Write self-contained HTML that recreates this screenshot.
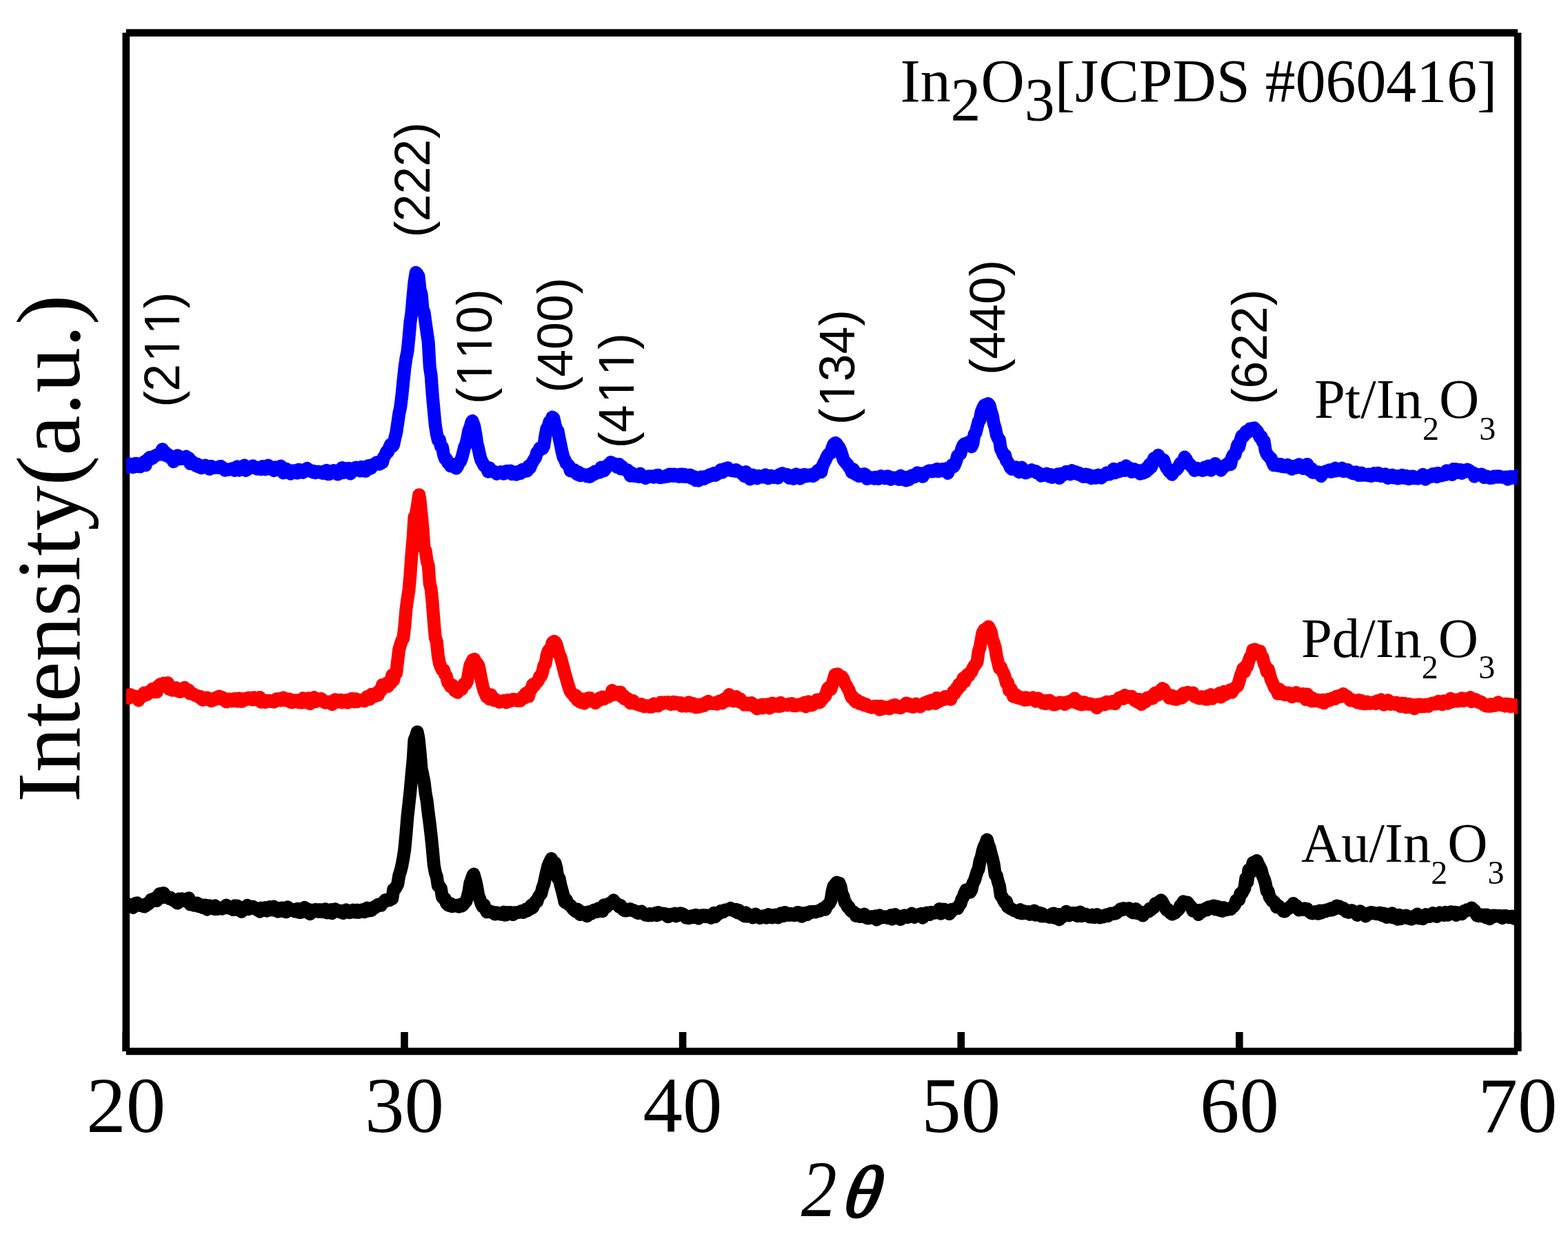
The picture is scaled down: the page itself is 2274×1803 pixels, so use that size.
<!DOCTYPE html>
<html lang="en">
<head>
<meta charset="utf-8">
<title>XRD patterns</title>
<style>
html,body{margin:0;padding:0;background:#fff;}
body{width:2274px;height:1803px;overflow:hidden;}
svg{display:block;}
.serif{font-family:"Liberation Serif", serif;font-kerning:none;}
.sans{font-family:"Liberation Sans", sans-serif;font-kerning:none;}
</style>
</head>
<body>
<svg width="2274" height="1803" viewBox="0 0 2274 1803">
<rect x="0" y="0" width="2274" height="1803" fill="#ffffff"/>

<g stroke="#000" stroke-width="10.6" fill="none" stroke-linecap="butt">
<line x1="182.8" y1="47.6" x2="2201.1" y2="47.6"/>
<line x1="182.8" y1="1525.0" x2="2201.1" y2="1525.0"/>
<line x1="182.8" y1="47.6" x2="182.8" y2="1525.0"/>
<line x1="2201.1" y1="47.6" x2="2201.1" y2="1525.0"/>
<line x1="182.8" y1="1525.0" x2="182.8" y2="1497.0"/>
<line x1="586.5" y1="1525.0" x2="586.5" y2="1497.0"/>
<line x1="990.1" y1="1525.0" x2="990.1" y2="1497.0"/>
<line x1="1393.8" y1="1525.0" x2="1393.8" y2="1497.0"/>
<line x1="1797.4" y1="1525.0" x2="1797.4" y2="1497.0"/>
<line x1="2201.1" y1="1525.0" x2="2201.1" y2="1497.0"/>
</g>
<g class="serif" font-size="115" fill="#000" text-anchor="middle">
<text x="182.8" y="1642">20</text>
<text x="586.5" y="1642">30</text>
<text x="990.1" y="1642">40</text>
<text x="1393.8" y="1642">50</text>
<text x="1797.4" y="1642">60</text>
<text x="2201.1" y="1642">70</text>
</g>
<text class="serif" font-size="116" font-style="italic" transform="translate(1161.8,1763.6) scale(0.895,1)">2</text>
<text class="serif" font-size="111" stroke="#000" stroke-width="3.2" stroke-linejoin="round" transform="translate(1216.5,1764.7) skewX(-18) scale(0.98,0.96)">θ</text>
<text class="serif" font-size="131.3" text-anchor="middle" transform="translate(114.9,795.7) rotate(-90)">Intensity(a.u.)</text>
<text class="serif" font-size="87.8" x="1305.4" y="147.4">In<tspan dy="27">2</tspan><tspan dy="-27">O</tspan><tspan dy="27">3</tspan><tspan dy="-23.5">[</tspan><tspan dy="-3.5">JCPDS #060416</tspan><tspan dy="3.5">]</tspan></text>
<text class="serif" font-size="80.7" x="1906" y="606.1">Pt/In<tspan font-size="48" dy="31.5">2</tspan><tspan dy="-31.5">O</tspan><tspan font-size="48" dy="31.5">3</tspan></text>
<text class="serif" font-size="80.7" x="1887" y="952.8">Pd/In<tspan font-size="48" dy="31.5">2</tspan><tspan dy="-31.5">O</tspan><tspan font-size="48" dy="31.5">3</tspan></text>
<text class="serif" font-size="80.7" x="1887" y="1250.4">Au/In<tspan font-size="48" dy="31.5">2</tspan><tspan dy="-31.5">O</tspan><tspan font-size="48" dy="31.5">3</tspan></text>
<g class="sans" font-size="71.6" fill="#000" text-anchor="start">
<g transform="translate(259.6,507.2) rotate(-90)">
<text x="-83.57 -60.53 -18.11 21.71 59.73" y="0">(211)</text>
<rect x="-14.26" y="-6.99" width="14.16" height="8.04" fill="#fff"/>
<rect x="6.22" y="-6.99" width="13.60" height="8.04" fill="#fff"/>
<rect x="25.56" y="-6.99" width="14.16" height="8.04" fill="#fff"/>
<rect x="46.04" y="-6.99" width="13.60" height="8.04" fill="#fff"/>
</g>
<g transform="translate(623.2,260.9) rotate(-90)">
<text x="-83.57 -60.53 -20.71 19.11 59.73" y="0">(222)</text>
</g>
<g transform="translate(713.1,502.8) rotate(-90)">
<text x="-83.57 -57.93 -18.11 19.11 59.73" y="0">(110)</text>
<rect x="-54.09" y="-6.99" width="14.16" height="8.04" fill="#fff"/>
<rect x="-33.60" y="-6.99" width="13.60" height="8.04" fill="#fff"/>
<rect x="-14.26" y="-6.99" width="14.16" height="8.04" fill="#fff"/>
<rect x="6.22" y="-6.99" width="13.60" height="8.04" fill="#fff"/>
</g>
<g transform="translate(829.6,486.2) rotate(-90)">
<text x="-83.57 -60.53 -20.71 19.11 59.73" y="0">(400)</text>
</g>
<g transform="translate(918.5,566.8) rotate(-90)">
<text x="-83.57 -60.53 -18.11 21.71 59.73" y="0">(411)</text>
<rect x="-14.26" y="-6.99" width="14.16" height="8.04" fill="#fff"/>
<rect x="6.22" y="-6.99" width="13.60" height="8.04" fill="#fff"/>
<rect x="25.56" y="-6.99" width="14.16" height="8.04" fill="#fff"/>
<rect x="46.04" y="-6.99" width="13.60" height="8.04" fill="#fff"/>
</g>
<g transform="translate(1239,532.7) rotate(-90)">
<text x="-83.57 -57.93 -20.71 19.11 59.73" y="0">(134)</text>
<rect x="-54.09" y="-6.99" width="14.16" height="8.04" fill="#fff"/>
<rect x="-33.60" y="-6.99" width="13.60" height="8.04" fill="#fff"/>
</g>
<g transform="translate(1457,460.4) rotate(-90)">
<text x="-83.57 -60.53 -20.71 19.11 59.73" y="0">(440)</text>
</g>
<g transform="translate(1837.4,503.3) rotate(-90)">
<text x="-83.57 -60.53 -20.71 19.11 59.73" y="0">(622)</text>
</g>
</g>
<defs><clipPath id="plotclip"><rect x="182.8" y="47.6" width="2018.3" height="1477.4"/></clipPath></defs>
<g clip-path="url(#plotclip)" fill="none" stroke-width="19.0" stroke-linejoin="round" stroke-linecap="round">
<polyline stroke="#000000" points="178.8,1309.7 180.8,1313.2 182.8,1312.2 184.9,1311.7 186.9,1314.7 188.9,1312.9 190.9,1312.2 192.9,1316.4 195.0,1311.7 197.0,1310.1 199.0,1309.8 201.0,1311.4 203.0,1313.6 205.1,1313.7 207.1,1314.0 209.1,1315.0 211.1,1314.1 213.1,1310.9 215.2,1311.3 217.2,1308.7 219.2,1304.9 221.2,1307.1 223.2,1304.2 225.3,1302.4 227.3,1306.4 229.3,1301.8 231.3,1296.8 233.3,1296.3 235.4,1301.8 237.4,1295.5 239.4,1299.2 241.4,1300.5 243.4,1301.9 245.5,1303.5 247.5,1302.3 249.5,1303.9 251.5,1305.8 253.5,1306.1 255.6,1308.7 257.6,1310.0 259.6,1304.1 261.6,1307.2 263.6,1303.8 265.7,1304.7 267.7,1306.1 269.7,1307.3 271.7,1306.6 273.7,1302.7 275.8,1312.0 277.8,1309.4 279.8,1309.7 281.8,1313.3 283.8,1311.2 285.9,1310.0 287.9,1314.5 289.9,1314.8 291.9,1312.6 293.9,1316.4 296.0,1315.8 298.0,1313.0 300.0,1319.1 302.0,1316.3 304.0,1313.7 306.1,1317.1 308.1,1316.6 310.1,1318.4 312.1,1313.9 314.1,1318.6 316.2,1318.3 318.2,1317.6 320.2,1317.1 322.2,1318.2 324.2,1316.7 326.3,1315.2 328.3,1313.1 330.3,1316.9 332.3,1317.3 334.3,1317.2 336.4,1318.1 338.4,1319.6 340.4,1313.8 342.4,1319.1 344.4,1314.0 346.5,1319.2 348.5,1320.7 350.5,1322.4 352.5,1317.8 354.5,1319.2 356.6,1317.9 358.6,1313.3 360.6,1318.7 362.6,1316.9 364.6,1316.9 366.7,1314.9 368.7,1316.8 370.7,1317.2 372.7,1319.7 374.7,1318.0 376.8,1322.2 378.8,1317.1 380.8,1317.6 382.8,1318.1 384.8,1316.6 386.9,1321.1 388.9,1319.4 390.9,1315.6 392.9,1318.2 394.9,1320.1 397.0,1315.1 399.0,1318.1 401.0,1317.4 403.0,1322.3 405.0,1318.7 407.1,1317.1 409.1,1316.9 411.1,1321.6 413.1,1317.2 415.1,1322.8 417.2,1315.9 419.2,1319.1 421.2,1319.5 423.2,1319.1 425.2,1320.3 427.3,1322.1 429.3,1319.6 431.3,1318.2 433.3,1323.2 435.3,1323.5 437.4,1319.5 439.4,1321.3 441.4,1316.4 443.4,1322.7 445.4,1318.5 447.5,1320.3 449.5,1325.7 451.5,1320.1 453.5,1322.6 455.5,1320.7 457.6,1319.3 459.6,1320.3 461.6,1322.6 463.6,1319.6 465.6,1320.6 467.7,1322.8 469.7,1321.0 471.7,1318.8 473.7,1323.9 475.7,1321.4 477.8,1323.9 479.8,1319.6 481.8,1324.7 483.8,1319.4 485.8,1318.8 487.9,1321.2 489.9,1321.4 491.9,1322.5 493.9,1321.1 495.9,1323.3 498.0,1324.6 500.0,1321.1 502.0,1319.8 504.0,1321.6 506.0,1323.7 508.1,1323.6 510.1,1321.5 512.1,1320.2 514.1,1321.7 516.1,1323.3 518.2,1320.0 520.2,1323.4 522.2,1321.3 524.2,1321.2 526.2,1319.4 528.3,1322.8 530.3,1320.2 532.3,1317.1 534.3,1321.1 536.3,1318.5 538.4,1320.8 540.4,1318.3 542.4,1315.7 544.4,1316.2 546.4,1313.8 548.5,1312.0 550.5,1312.6 552.5,1313.2 554.5,1310.2 556.5,1308.4 558.6,1305.6 560.6,1306.8 562.6,1305.1 564.6,1305.6 566.6,1302.4 568.7,1303.8 570.7,1290.3 572.7,1289.6 574.7,1286.4 576.7,1282.6 578.8,1269.9 580.8,1263.7 582.8,1255.6 584.8,1244.8 586.8,1231.9 588.9,1209.5 590.9,1184.5 592.9,1166.7 594.9,1148.4 596.9,1125.5 599.0,1104.3 601.0,1073.0 603.0,1068.5 605.2,1061.7 607.0,1071.0 609.1,1091.2 611.1,1115.1 613.1,1124.2 615.1,1134.6 617.1,1150.9 619.2,1162.1 621.2,1179.9 623.2,1194.6 625.2,1212.0 627.2,1231.8 629.3,1255.0 631.3,1265.8 633.3,1271.4 635.3,1284.5 637.3,1285.7 639.4,1288.8 641.4,1301.0 643.4,1303.5 645.4,1303.9 647.4,1310.1 649.5,1312.4 651.5,1313.4 653.5,1310.8 655.5,1314.7 657.5,1313.0 659.6,1314.1 661.6,1314.1 663.6,1313.1 665.6,1315.2 667.6,1312.0 669.7,1314.2 671.7,1312.3 673.7,1309.2 675.7,1307.7 677.7,1301.8 679.8,1294.0 681.8,1281.2 683.8,1275.6 685.8,1269.8 687.0,1268.0 689.9,1278.4 691.9,1288.2 693.9,1299.7 695.9,1304.2 697.9,1310.8 700.0,1315.3 702.0,1312.5 704.0,1318.4 706.0,1322.8 708.0,1321.9 710.1,1321.5 712.1,1323.1 714.1,1322.8 716.1,1324.7 718.1,1326.1 720.2,1323.7 722.2,1325.4 724.2,1325.1 726.2,1326.0 728.2,1326.3 730.3,1323.1 732.3,1327.2 734.3,1326.9 736.3,1323.6 738.3,1325.3 740.4,1323.4 742.4,1325.5 744.4,1326.6 746.4,1323.7 748.4,1324.1 750.5,1323.5 752.5,1323.3 754.5,1322.7 756.5,1321.5 758.5,1323.6 760.6,1321.3 762.6,1319.1 764.6,1321.3 766.6,1317.2 768.6,1318.6 770.7,1312.8 772.7,1316.4 774.7,1310.7 776.7,1307.5 778.7,1308.2 780.8,1301.5 782.8,1298.5 784.8,1296.4 786.8,1288.0 788.8,1282.6 790.9,1272.7 792.9,1263.7 794.9,1255.7 796.9,1251.1 799.6,1245.6 801.0,1248.3 803.0,1251.7 805.0,1251.6 807.0,1259.1 809.0,1273.8 811.1,1274.3 813.1,1284.3 815.1,1291.5 817.1,1299.4 819.1,1308.4 821.2,1305.0 823.2,1309.6 825.2,1312.4 827.2,1313.1 829.2,1316.1 831.3,1318.9 833.3,1320.5 835.3,1322.2 837.3,1318.9 839.3,1320.3 841.4,1326.5 843.4,1323.7 845.4,1325.9 847.4,1324.0 849.4,1323.7 851.5,1328.8 853.5,1322.8 855.5,1323.0 857.5,1325.3 859.5,1323.5 861.6,1319.9 863.6,1322.2 865.6,1322.6 867.6,1317.8 869.6,1318.8 871.7,1320.5 873.7,1321.8 875.7,1312.7 877.7,1314.9 879.7,1315.3 881.8,1312.1 883.8,1310.5 885.8,1309.6 887.8,1310.4 889.8,1305.9 891.9,1309.8 893.9,1310.4 895.9,1311.9 897.9,1315.3 899.9,1313.2 902.0,1316.2 904.0,1319.6 906.0,1320.9 908.0,1321.1 910.0,1319.2 912.1,1319.6 914.1,1318.6 916.1,1320.6 918.1,1320.2 920.1,1321.2 922.2,1321.8 924.2,1324.2 926.2,1324.6 928.2,1323.4 930.2,1322.0 932.3,1324.5 934.3,1325.9 936.3,1327.2 938.3,1326.5 940.3,1327.9 942.4,1325.4 944.4,1327.7 946.4,1327.6 948.4,1325.4 950.4,1324.4 952.5,1327.7 954.5,1323.6 956.5,1326.5 958.5,1324.9 960.5,1325.0 962.6,1325.4 964.6,1325.4 966.6,1326.3 968.6,1329.7 970.6,1329.1 972.7,1326.3 974.7,1327.1 976.7,1327.6 978.7,1325.1 980.7,1328.9 982.8,1325.8 984.8,1327.1 986.8,1324.9 988.8,1325.3 990.8,1326.2 992.9,1327.6 994.9,1331.2 996.9,1329.4 998.9,1331.8 1000.9,1329.6 1003.0,1328.6 1005.0,1330.6 1007.0,1329.5 1009.0,1327.3 1011.0,1330.2 1013.1,1332.2 1015.1,1329.7 1017.1,1327.9 1019.1,1328.6 1021.1,1327.7 1023.2,1329.4 1025.2,1328.0 1027.2,1329.4 1029.2,1329.7 1031.2,1331.5 1033.3,1326.6 1035.3,1324.3 1037.3,1329.8 1039.3,1326.7 1041.3,1324.3 1043.4,1324.9 1045.4,1321.6 1047.4,1321.8 1049.4,1322.7 1051.4,1320.0 1053.5,1320.0 1055.5,1319.8 1057.5,1318.6 1059.5,1317.5 1061.5,1318.9 1063.6,1320.8 1065.6,1321.8 1067.6,1319.3 1069.6,1323.8 1071.6,1320.6 1073.7,1322.6 1075.7,1326.4 1077.7,1327.1 1079.7,1328.9 1081.7,1323.9 1083.8,1329.1 1085.8,1326.6 1087.8,1327.1 1089.8,1329.0 1091.8,1331.0 1093.9,1327.2 1095.9,1326.1 1097.9,1328.2 1099.9,1329.2 1101.9,1331.5 1104.0,1330.1 1106.0,1329.0 1108.0,1328.6 1110.0,1328.7 1112.0,1331.2 1114.1,1326.6 1116.1,1328.2 1118.1,1327.7 1120.1,1330.9 1122.1,1328.8 1124.2,1327.1 1126.2,1329.2 1128.2,1331.0 1130.2,1329.1 1132.2,1324.8 1134.3,1326.6 1136.3,1328.8 1138.3,1323.5 1140.3,1324.5 1142.3,1325.9 1144.4,1327.6 1146.4,1325.3 1148.4,1327.2 1150.4,1326.8 1152.4,1327.8 1154.5,1325.2 1156.5,1323.5 1158.5,1323.7 1160.5,1327.8 1162.5,1329.2 1164.6,1328.3 1166.6,1324.6 1168.6,1324.2 1170.6,1326.6 1172.6,1325.1 1174.7,1322.5 1176.7,1323.5 1178.7,1322.2 1180.7,1322.7 1182.7,1322.9 1184.8,1322.0 1186.8,1321.3 1188.8,1321.3 1190.8,1319.4 1192.8,1318.1 1194.9,1317.4 1196.9,1319.2 1198.9,1313.9 1200.9,1312.4 1202.9,1310.2 1205.0,1305.9 1207.0,1293.2 1209.0,1285.4 1211.0,1283.2 1213.5,1280.0 1215.1,1280.8 1217.1,1281.1 1219.1,1286.1 1221.1,1296.8 1223.1,1300.1 1225.2,1308.8 1227.2,1310.7 1229.2,1315.4 1231.2,1315.8 1233.2,1320.1 1235.3,1322.1 1237.3,1322.5 1239.3,1324.1 1241.3,1328.3 1243.3,1328.6 1245.4,1326.8 1247.4,1329.5 1249.4,1327.3 1251.4,1328.9 1253.4,1326.0 1255.5,1329.5 1257.5,1331.9 1259.5,1330.0 1261.5,1331.8 1263.5,1329.6 1265.6,1331.2 1267.6,1330.3 1269.6,1328.8 1271.6,1334.0 1273.6,1328.8 1275.7,1327.8 1277.7,1330.3 1279.7,1330.8 1281.7,1330.5 1283.7,1329.7 1285.8,1330.7 1287.8,1331.6 1289.8,1331.1 1291.8,1327.6 1293.8,1333.1 1295.9,1330.1 1297.9,1326.6 1299.9,1331.6 1301.9,1329.9 1303.9,1330.6 1306.0,1333.5 1308.0,1328.9 1310.0,1328.7 1312.0,1327.9 1314.0,1329.8 1316.1,1330.5 1318.1,1329.8 1320.1,1329.3 1322.1,1325.1 1324.1,1329.2 1326.2,1330.5 1328.2,1327.7 1330.2,1327.5 1332.2,1326.6 1334.2,1328.6 1336.3,1325.3 1338.3,1331.1 1340.3,1327.0 1342.3,1325.7 1344.3,1323.9 1346.4,1326.3 1348.4,1326.4 1350.4,1323.2 1352.4,1323.9 1354.4,1323.5 1356.5,1324.1 1358.5,1322.9 1360.5,1323.6 1362.5,1318.5 1364.5,1325.2 1366.6,1320.0 1368.6,1319.0 1370.6,1319.5 1372.6,1322.0 1374.6,1322.8 1376.7,1325.6 1378.7,1323.3 1380.7,1319.2 1382.7,1319.3 1384.7,1318.4 1386.8,1317.5 1388.8,1317.6 1390.8,1313.4 1392.8,1311.4 1394.8,1304.8 1396.9,1301.1 1398.9,1295.6 1400.9,1290.8 1402.9,1293.3 1404.9,1289.6 1407.0,1294.2 1409.0,1290.3 1411.0,1281.1 1413.0,1277.8 1415.0,1271.5 1417.1,1264.5 1419.1,1260.8 1421.1,1248.9 1423.1,1243.9 1425.1,1234.5 1427.2,1228.0 1429.2,1224.0 1431.4,1218.1 1433.2,1224.7 1435.2,1229.8 1437.3,1238.2 1439.3,1245.4 1441.3,1254.4 1443.3,1268.9 1445.3,1270.0 1447.4,1278.9 1449.4,1285.2 1451.4,1299.2 1453.4,1301.2 1455.4,1305.7 1457.5,1309.5 1459.5,1307.6 1461.5,1315.3 1463.5,1316.0 1465.5,1318.0 1467.6,1319.0 1469.6,1320.0 1471.6,1321.2 1473.6,1321.2 1475.6,1322.2 1477.7,1324.1 1479.7,1319.6 1481.7,1324.9 1483.7,1324.8 1485.7,1321.8 1487.8,1324.5 1489.8,1324.1 1491.8,1322.6 1493.8,1326.4 1495.8,1323.7 1497.9,1323.1 1499.9,1321.0 1501.9,1327.2 1503.9,1324.0 1505.9,1324.6 1508.0,1324.2 1510.0,1328.8 1512.0,1325.5 1514.0,1329.0 1516.0,1328.6 1518.1,1329.1 1520.1,1329.1 1522.1,1330.5 1524.1,1328.7 1526.1,1325.6 1528.2,1325.1 1530.2,1331.5 1532.2,1326.1 1534.2,1332.1 1536.2,1333.9 1538.3,1326.4 1540.3,1330.2 1542.3,1328.9 1544.3,1325.6 1546.3,1322.3 1548.4,1325.0 1550.4,1327.9 1552.4,1324.6 1554.4,1324.6 1556.4,1324.6 1558.5,1324.5 1560.5,1325.0 1562.5,1328.8 1564.5,1323.9 1566.5,1323.1 1568.6,1328.6 1570.6,1326.9 1572.6,1327.4 1574.6,1326.1 1576.6,1328.5 1578.7,1328.3 1580.7,1330.1 1582.7,1328.8 1584.7,1327.1 1586.7,1330.6 1588.8,1329.6 1590.8,1326.5 1592.8,1329.1 1594.8,1330.9 1596.8,1329.2 1598.9,1328.5 1600.9,1329.9 1602.9,1327.4 1604.9,1326.9 1606.9,1328.7 1609.0,1326.8 1611.0,1325.1 1613.0,1325.7 1615.0,1324.8 1617.0,1325.2 1619.1,1324.5 1621.1,1322.1 1623.1,1321.1 1625.1,1318.6 1627.1,1319.7 1629.2,1317.6 1631.2,1319.0 1633.2,1318.4 1635.2,1318.2 1637.2,1317.5 1639.3,1319.2 1641.3,1322.6 1643.3,1324.0 1645.3,1320.9 1647.3,1318.5 1649.4,1324.7 1651.4,1321.8 1653.4,1325.2 1655.4,1326.3 1657.4,1328.0 1659.5,1324.5 1661.5,1323.6 1663.5,1321.7 1665.5,1322.0 1667.5,1317.9 1669.6,1319.6 1671.6,1317.0 1673.6,1316.1 1675.6,1310.7 1677.6,1310.4 1679.7,1308.9 1681.7,1307.7 1683.7,1305.8 1685.7,1308.3 1687.7,1312.2 1689.8,1316.1 1691.8,1319.9 1693.8,1319.0 1695.8,1322.3 1697.8,1324.5 1699.9,1326.0 1701.9,1325.1 1703.9,1324.3 1705.9,1321.9 1707.9,1320.6 1710.0,1318.2 1712.0,1313.4 1714.0,1313.4 1716.0,1307.7 1718.0,1311.7 1720.1,1311.3 1722.1,1309.0 1724.1,1311.8 1726.1,1314.2 1728.1,1316.1 1730.2,1321.4 1732.2,1319.6 1734.2,1321.8 1736.2,1322.2 1738.2,1326.5 1740.3,1320.4 1742.3,1323.3 1744.3,1319.7 1746.3,1319.6 1748.3,1317.9 1750.4,1320.0 1752.4,1315.9 1754.4,1315.4 1756.4,1316.1 1758.4,1314.5 1760.5,1314.0 1762.5,1319.0 1764.5,1314.9 1766.5,1315.3 1768.5,1320.3 1770.6,1318.8 1772.6,1321.4 1774.6,1316.6 1776.6,1318.9 1778.6,1319.8 1780.7,1318.6 1782.7,1318.4 1784.7,1318.8 1786.7,1316.2 1788.7,1315.2 1790.8,1312.1 1792.8,1306.2 1794.8,1305.6 1796.8,1305.2 1798.8,1296.4 1800.9,1296.2 1802.9,1292.1 1804.9,1288.7 1806.9,1273.7 1808.9,1279.5 1811.0,1261.7 1813.0,1262.5 1815.0,1264.6 1817.0,1251.3 1819.0,1254.2 1821.1,1249.5 1822.7,1248.5 1825.1,1254.2 1827.1,1257.6 1829.1,1262.0 1831.2,1270.4 1833.2,1274.9 1835.2,1281.4 1837.2,1292.3 1839.2,1292.9 1841.3,1301.5 1843.3,1304.1 1845.3,1307.0 1847.3,1307.6 1849.3,1309.6 1851.4,1315.8 1853.4,1313.6 1855.4,1315.3 1857.4,1316.9 1859.4,1319.1 1861.5,1321.9 1863.5,1321.9 1865.5,1319.2 1867.5,1318.2 1869.5,1317.2 1871.6,1314.6 1873.6,1313.9 1875.6,1310.5 1877.6,1315.3 1879.6,1313.5 1881.7,1315.8 1883.7,1320.0 1885.7,1318.0 1887.7,1319.3 1889.7,1319.5 1891.8,1317.8 1893.8,1318.8 1895.8,1318.6 1897.8,1321.2 1899.8,1323.2 1901.9,1324.6 1903.9,1324.9 1905.9,1323.7 1907.9,1322.6 1909.9,1324.8 1912.0,1325.3 1914.0,1321.0 1916.0,1324.2 1918.0,1321.0 1920.0,1322.1 1922.1,1322.0 1924.1,1319.8 1926.1,1320.0 1928.1,1320.3 1930.1,1317.6 1932.2,1319.8 1934.2,1318.9 1936.2,1317.9 1938.2,1314.1 1940.2,1315.3 1942.3,1314.8 1944.3,1316.1 1946.3,1318.3 1948.3,1317.2 1950.3,1319.7 1952.4,1322.3 1954.4,1321.0 1956.4,1323.3 1958.4,1322.5 1960.4,1320.4 1962.5,1323.2 1964.5,1323.8 1966.5,1323.1 1968.5,1327.4 1970.5,1323.6 1972.6,1321.8 1974.6,1324.2 1976.6,1324.2 1978.6,1325.6 1980.6,1328.9 1982.7,1325.1 1984.7,1326.3 1986.7,1323.8 1988.7,1323.5 1990.7,1324.0 1992.8,1325.1 1994.8,1324.8 1996.8,1325.8 1998.8,1324.9 2000.8,1324.1 2002.9,1325.1 2004.9,1328.0 2006.9,1324.9 2008.9,1328.5 2010.9,1330.4 2013.0,1326.3 2015.0,1329.9 2017.0,1330.2 2019.0,1324.9 2021.0,1331.0 2023.1,1331.0 2025.1,1328.7 2027.1,1333.3 2029.1,1327.2 2031.1,1332.7 2033.2,1331.0 2035.2,1328.8 2037.2,1330.8 2039.2,1328.0 2041.2,1331.8 2043.3,1331.7 2045.3,1332.8 2047.3,1333.1 2049.3,1329.4 2051.3,1331.4 2053.4,1329.3 2055.4,1326.1 2057.4,1331.8 2059.4,1332.1 2061.4,1330.3 2063.5,1332.8 2065.5,1329.5 2067.5,1326.5 2069.5,1328.5 2071.5,1328.7 2073.6,1329.5 2075.6,1328.1 2077.6,1324.6 2079.6,1326.1 2081.6,1327.7 2083.7,1329.5 2085.7,1325.8 2087.7,1324.0 2089.7,1324.9 2091.7,1327.1 2093.8,1327.4 2095.8,1323.4 2097.8,1326.2 2099.8,1327.2 2101.8,1326.1 2103.9,1322.7 2105.9,1325.6 2107.9,1323.5 2109.9,1323.3 2111.9,1327.4 2114.0,1323.7 2116.0,1324.4 2118.0,1325.3 2120.0,1325.7 2122.0,1323.0 2124.1,1321.0 2126.1,1321.4 2128.1,1319.6 2130.1,1319.9 2132.1,1319.5 2134.2,1316.9 2136.2,1319.2 2138.2,1320.1 2140.2,1324.7 2142.2,1328.0 2144.3,1328.7 2146.3,1328.4 2148.3,1326.9 2150.3,1329.0 2152.3,1327.1 2154.4,1330.7 2156.4,1327.1 2158.4,1328.7 2160.4,1332.8 2162.4,1330.5 2164.5,1328.1 2166.5,1329.4 2168.5,1328.0 2170.5,1328.4 2172.5,1329.0 2174.6,1328.3 2176.6,1330.1 2178.6,1331.7 2180.6,1328.4 2182.6,1328.4 2184.7,1328.8 2186.7,1329.3 2188.7,1330.7 2190.7,1329.4 2192.7,1329.1 2194.8,1329.6 2196.8,1332.6 2198.8,1332.6 2200.8,1332.8 2202.8,1331.4 2204.9,1329.4 2206.9,1333.5"/>
<polyline stroke="#ff0000" points="178.8,1008.5 180.8,1009.5 182.8,1009.2 184.9,1010.0 186.9,1012.5 188.9,1007.6 190.9,1010.7 192.9,1010.6 195.0,1009.9 197.0,1011.6 199.0,1011.5 201.0,1015.9 203.0,1010.5 205.1,1008.9 207.1,1009.9 209.1,1005.0 211.1,1005.4 213.1,1007.5 215.2,1004.5 217.2,1002.6 219.2,1002.5 221.2,999.2 223.2,1003.6 225.3,1002.3 227.3,1003.7 229.3,995.4 231.3,993.7 233.3,992.2 235.4,992.9 237.4,991.1 239.4,993.5 241.4,991.8 243.4,990.5 245.5,999.8 247.5,995.7 249.5,1001.1 251.5,998.8 253.5,1001.2 255.6,997.8 257.6,999.8 259.6,1003.1 261.6,1003.4 263.6,1001.3 265.7,1002.1 267.7,997.2 269.7,1001.7 271.7,1000.8 273.7,1001.3 275.8,1006.1 277.8,1005.9 279.8,1006.2 281.8,1008.0 283.8,1008.7 285.9,1009.5 287.9,1010.8 289.9,1010.2 291.9,1013.5 293.9,1015.2 296.0,1014.5 298.0,1012.1 300.0,1011.9 302.0,1014.3 304.0,1013.4 306.1,1016.8 308.1,1014.6 310.1,1015.1 312.1,1012.6 314.1,1013.4 316.2,1010.7 318.2,1010.0 320.2,1013.8 322.2,1011.4 324.2,1012.9 326.3,1016.3 328.3,1018.0 330.3,1015.2 332.3,1014.3 334.3,1016.7 336.4,1017.0 338.4,1016.2 340.4,1013.4 342.4,1014.2 344.4,1017.2 346.5,1013.0 348.5,1015.2 350.5,1017.5 352.5,1016.9 354.5,1013.4 356.6,1014.0 358.6,1013.9 360.6,1011.9 362.6,1014.2 364.6,1012.2 366.7,1015.1 368.7,1011.8 370.7,1013.1 372.7,1013.9 374.7,1015.8 376.8,1011.6 378.8,1018.3 380.8,1016.0 382.8,1016.6 384.8,1018.7 386.9,1016.3 388.9,1017.0 390.9,1016.3 392.9,1017.6 394.9,1017.2 397.0,1018.1 399.0,1015.6 401.0,1013.7 403.0,1016.2 405.0,1013.6 407.1,1015.9 409.1,1015.4 411.1,1012.1 413.1,1015.8 415.1,1014.8 417.2,1014.5 419.2,1013.9 421.2,1018.3 423.2,1018.8 425.2,1015.7 427.3,1015.9 429.3,1016.3 431.3,1015.9 433.3,1018.8 435.3,1015.8 437.4,1019.3 439.4,1012.8 441.4,1013.8 443.4,1018.6 445.4,1016.1 447.5,1012.8 449.5,1020.7 451.5,1017.7 453.5,1016.9 455.5,1011.6 457.6,1017.8 459.6,1016.1 461.6,1015.9 463.6,1015.8 465.6,1013.4 467.7,1014.9 469.7,1018.1 471.7,1019.2 473.7,1018.7 475.7,1018.2 477.8,1017.9 479.8,1018.5 481.8,1021.7 483.8,1017.7 485.8,1014.7 487.9,1018.4 489.9,1016.9 491.9,1015.6 493.9,1015.2 495.9,1019.0 498.0,1016.3 500.0,1017.1 502.0,1015.6 504.0,1019.2 506.0,1016.0 508.1,1015.8 510.1,1013.4 512.1,1013.7 514.1,1018.0 516.1,1013.8 518.2,1017.6 520.2,1016.5 522.2,1016.0 524.2,1015.6 526.2,1014.9 528.3,1016.9 530.3,1014.4 532.3,1010.5 534.3,1011.6 536.3,1014.2 538.4,1007.4 540.4,1009.0 542.4,1008.1 544.4,1009.8 546.4,1004.6 548.5,1008.5 550.5,1001.4 552.5,1001.3 554.5,993.5 556.5,995.3 558.6,993.3 560.6,991.0 562.6,995.5 564.6,990.3 566.6,991.3 568.7,979.2 570.7,986.6 572.7,977.1 574.7,976.1 576.7,958.7 578.8,941.6 580.8,934.9 582.8,929.0 584.8,925.9 586.8,908.8 588.9,884.2 590.9,868.9 592.9,856.6 594.9,834.1 596.9,805.4 599.0,781.3 601.0,749.9 603.0,746.7 605.0,735.8 607.7,717.7 609.1,726.4 611.1,745.7 613.1,767.4 615.1,795.7 617.1,798.8 619.2,813.8 621.2,820.4 623.2,846.9 625.2,854.4 627.2,875.2 629.3,902.6 631.3,925.0 633.3,930.8 635.3,950.9 637.3,962.0 639.4,967.5 641.4,972.0 643.4,971.6 645.4,978.3 647.4,980.9 649.5,989.8 651.5,992.1 653.5,996.1 655.5,993.4 657.5,996.3 659.6,1001.7 661.6,1002.0 663.6,1004.4 665.6,999.7 667.6,998.1 669.7,999.8 671.7,993.6 673.7,991.4 675.7,991.9 677.7,987.7 679.8,975.8 681.8,964.9 683.8,961.2 685.8,957.0 688.0,956.3 689.9,960.3 691.9,962.1 693.9,965.2 695.9,974.3 697.9,985.0 700.0,995.1 702.0,1001.8 704.0,1006.7 706.0,1011.0 708.0,1010.3 710.1,1014.0 712.1,1007.9 714.1,1011.8 716.1,1015.7 718.1,1014.3 720.2,1016.2 722.2,1017.3 724.2,1018.4 726.2,1017.3 728.2,1017.3 730.3,1016.4 732.3,1017.8 734.3,1018.9 736.3,1015.6 738.3,1017.3 740.4,1016.8 742.4,1015.9 744.4,1014.3 746.4,1014.7 748.4,1015.0 750.5,1016.6 752.5,1016.3 754.5,1016.4 756.5,1013.8 758.5,1010.4 760.6,1012.2 762.6,1005.7 764.6,1010.3 766.6,1010.1 768.6,1001.3 770.7,999.5 772.7,992.8 774.7,994.7 776.7,991.2 778.7,989.6 780.8,986.7 782.8,981.0 784.8,980.5 786.8,974.6 788.8,965.2 790.9,963.4 792.9,951.2 794.9,944.9 796.9,941.7 798.9,942.7 801.0,932.2 803.7,930.3 805.0,931.0 807.0,934.8 809.0,942.2 811.1,949.7 813.1,953.5 815.1,961.3 817.1,968.8 819.1,976.9 821.2,983.8 823.2,991.0 825.2,997.5 827.2,1003.1 829.2,1005.8 831.3,1006.9 833.3,1010.9 835.3,1008.8 837.3,1015.6 839.3,1015.2 841.4,1018.5 843.4,1016.0 845.4,1013.9 847.4,1020.1 849.4,1016.2 851.5,1014.6 853.5,1012.4 855.5,1012.4 857.5,1017.1 859.5,1017.6 861.6,1015.5 863.6,1019.7 865.6,1015.8 867.6,1016.8 869.6,1012.7 871.7,1012.3 873.7,1011.1 875.7,1013.9 877.7,1012.2 879.7,1011.3 881.8,1011.0 883.8,1009.3 885.8,1008.8 887.8,1001.6 889.8,1007.5 891.9,1006.8 893.9,1007.2 895.9,1005.1 897.9,1003.9 899.9,1004.2 902.0,1010.8 904.0,1008.7 906.0,1014.0 908.0,1014.3 910.0,1013.2 912.1,1016.6 914.1,1019.9 916.1,1019.0 918.1,1016.5 920.1,1020.3 922.2,1020.3 924.2,1021.7 926.2,1021.6 928.2,1023.2 930.2,1021.5 932.3,1023.0 934.3,1024.8 936.3,1024.1 938.3,1023.8 940.3,1024.0 942.4,1025.5 944.4,1025.5 946.4,1024.9 948.4,1020.8 950.4,1021.7 952.5,1022.8 954.5,1023.9 956.5,1021.0 958.5,1018.8 960.5,1020.8 962.6,1019.1 964.6,1018.8 966.6,1019.1 968.6,1018.5 970.6,1020.6 972.7,1021.7 974.7,1019.4 976.7,1018.3 978.7,1021.1 980.7,1018.7 982.8,1019.7 984.8,1019.5 986.8,1019.5 988.8,1024.1 990.8,1022.2 992.9,1023.6 994.9,1024.1 996.9,1022.4 998.9,1018.7 1000.9,1023.7 1003.0,1024.3 1005.0,1020.5 1007.0,1022.1 1009.0,1025.9 1011.0,1024.9 1013.1,1025.4 1015.1,1022.0 1017.1,1024.4 1019.1,1022.6 1021.1,1023.5 1023.2,1019.4 1025.2,1021.3 1027.2,1017.4 1029.2,1019.6 1031.2,1020.2 1033.3,1020.6 1035.3,1019.8 1037.3,1019.4 1039.3,1021.3 1041.3,1019.8 1043.4,1016.9 1045.4,1019.5 1047.4,1020.0 1049.4,1016.3 1051.4,1013.2 1053.5,1016.8 1055.5,1014.2 1057.5,1007.6 1059.5,1011.5 1061.5,1010.7 1063.6,1016.9 1065.6,1012.3 1067.6,1010.4 1069.6,1015.1 1071.6,1017.8 1073.7,1014.1 1075.7,1019.3 1077.7,1019.4 1079.7,1022.3 1081.7,1021.9 1083.8,1020.1 1085.8,1022.3 1087.8,1022.2 1089.8,1019.6 1091.8,1020.8 1093.9,1024.9 1095.9,1025.3 1097.9,1028.1 1099.9,1024.5 1101.9,1025.6 1104.0,1022.1 1106.0,1026.9 1108.0,1022.1 1110.0,1022.4 1112.0,1024.2 1114.1,1021.5 1116.1,1027.1 1118.1,1021.5 1120.1,1019.9 1122.1,1022.1 1124.2,1024.2 1126.2,1020.9 1128.2,1024.5 1130.2,1024.6 1132.2,1019.4 1134.3,1023.6 1136.3,1022.6 1138.3,1022.6 1140.3,1022.7 1142.3,1023.0 1144.4,1021.0 1146.4,1022.6 1148.4,1020.5 1150.4,1023.8 1152.4,1023.0 1154.5,1023.8 1156.5,1022.2 1158.5,1022.7 1160.5,1021.8 1162.5,1021.0 1164.6,1023.4 1166.6,1019.1 1168.6,1024.9 1170.6,1022.7 1172.6,1017.9 1174.7,1021.8 1176.7,1023.0 1178.7,1022.3 1180.7,1018.8 1182.7,1019.5 1184.8,1015.0 1186.8,1019.0 1188.8,1018.9 1190.8,1016.4 1192.8,1013.7 1194.9,1011.2 1196.9,1009.8 1198.9,1003.2 1200.9,998.0 1202.9,996.7 1205.0,999.8 1207.0,992.4 1209.0,985.0 1211.0,978.6 1213.0,979.6 1215.0,977.8 1217.1,982.6 1219.1,981.8 1221.1,981.8 1223.1,984.8 1225.2,991.1 1227.2,993.8 1229.2,998.1 1231.2,1001.0 1233.2,1006.9 1235.3,1012.2 1237.3,1011.2 1239.3,1016.3 1241.3,1018.3 1243.3,1015.7 1245.4,1020.1 1247.4,1020.8 1249.4,1019.1 1251.4,1021.2 1253.4,1022.9 1255.5,1021.2 1257.5,1023.0 1259.5,1024.8 1261.5,1025.0 1263.5,1026.2 1265.6,1026.1 1267.6,1024.5 1269.6,1024.6 1271.6,1024.2 1273.6,1027.6 1275.7,1029.3 1277.7,1024.2 1279.7,1028.2 1281.7,1027.4 1283.7,1025.9 1285.8,1026.9 1287.8,1025.9 1289.8,1028.1 1291.8,1025.5 1293.8,1023.5 1295.9,1025.3 1297.9,1022.4 1299.9,1025.8 1301.9,1024.4 1303.9,1025.5 1306.0,1026.9 1308.0,1025.0 1310.0,1023.7 1312.0,1023.2 1314.0,1020.0 1316.1,1023.7 1318.1,1021.1 1320.1,1024.5 1322.1,1022.6 1324.1,1025.6 1326.2,1024.2 1328.2,1021.0 1330.2,1022.3 1332.2,1022.5 1334.2,1025.1 1336.3,1023.5 1338.3,1021.9 1340.3,1019.9 1342.3,1020.4 1344.3,1017.8 1346.4,1021.3 1348.4,1019.3 1350.4,1016.0 1352.4,1016.5 1354.4,1018.2 1356.5,1020.5 1358.5,1012.5 1360.5,1013.0 1362.5,1017.2 1364.5,1014.4 1366.6,1014.2 1368.6,1014.5 1370.6,1010.5 1372.6,1013.1 1374.6,1011.9 1376.7,1009.8 1378.7,1014.5 1380.7,1008.3 1382.7,1003.2 1384.7,1005.6 1386.8,998.4 1388.8,999.7 1390.8,992.5 1392.8,995.4 1394.8,991.2 1396.9,983.9 1398.9,988.8 1400.9,981.2 1402.9,978.7 1404.9,980.3 1407.0,975.2 1409.0,974.5 1411.0,969.2 1413.0,965.9 1415.0,963.5 1417.1,960.3 1419.1,945.1 1421.1,939.2 1423.1,927.9 1425.1,917.6 1427.2,913.9 1429.2,914.3 1431.2,911.1 1433.6,909.0 1435.2,912.4 1437.3,916.7 1439.3,927.2 1441.3,932.6 1443.3,939.5 1445.3,951.6 1447.4,960.9 1449.4,969.3 1451.4,967.5 1453.4,973.1 1455.4,976.4 1457.5,982.2 1459.5,991.0 1461.5,989.9 1463.5,1001.7 1465.5,998.5 1467.6,1002.2 1469.6,1010.4 1471.6,1010.4 1473.6,1007.9 1475.6,1012.1 1477.7,1011.2 1479.7,1013.2 1481.7,1011.9 1483.7,1011.9 1485.7,1015.4 1487.8,1011.8 1489.8,1015.0 1491.8,1014.3 1493.8,1014.0 1495.8,1013.2 1497.9,1011.8 1499.9,1013.1 1501.9,1017.2 1503.9,1014.9 1505.9,1013.1 1508.0,1017.1 1510.0,1015.5 1512.0,1019.8 1514.0,1016.5 1516.0,1020.6 1518.1,1016.3 1520.1,1018.3 1522.1,1016.0 1524.1,1020.4 1526.1,1018.6 1528.2,1022.1 1530.2,1022.1 1532.2,1020.5 1534.2,1020.4 1536.2,1018.9 1538.3,1019.2 1540.3,1019.3 1542.3,1019.8 1544.3,1021.7 1546.3,1020.1 1548.4,1018.0 1550.4,1018.6 1552.4,1017.4 1554.4,1016.0 1556.4,1015.2 1558.5,1012.9 1560.5,1019.3 1562.5,1016.3 1564.5,1021.0 1566.5,1020.7 1568.6,1022.1 1570.6,1019.8 1572.6,1018.6 1574.6,1021.1 1576.6,1020.5 1578.7,1021.4 1580.7,1020.8 1582.7,1021.5 1584.7,1022.3 1586.7,1023.3 1588.8,1022.3 1590.8,1026.7 1592.8,1021.7 1594.8,1023.3 1596.8,1022.1 1598.9,1020.7 1600.9,1020.4 1602.9,1021.9 1604.9,1018.0 1606.9,1020.0 1609.0,1019.1 1611.0,1020.0 1613.0,1017.5 1615.0,1017.8 1617.0,1020.8 1619.1,1016.7 1621.1,1015.5 1623.1,1012.2 1625.1,1013.7 1627.1,1010.9 1629.2,1013.4 1631.2,1008.5 1633.2,1010.0 1635.2,1010.1 1637.2,1011.4 1639.3,1010.8 1641.3,1010.3 1643.3,1012.9 1645.3,1015.6 1647.3,1015.3 1649.4,1018.3 1651.4,1014.4 1653.4,1014.6 1655.4,1021.6 1657.4,1019.6 1659.5,1018.3 1661.5,1017.8 1663.5,1012.3 1665.5,1013.0 1667.5,1011.2 1669.6,1011.9 1671.6,1013.1 1673.6,1006.8 1675.6,1005.1 1677.6,1006.6 1679.7,1008.0 1681.7,1004.5 1683.7,1000.8 1685.7,998.8 1687.7,999.8 1689.8,1003.4 1691.8,1006.3 1693.8,1007.8 1695.8,1012.4 1697.8,1012.1 1699.9,1009.1 1701.9,1013.7 1703.9,1011.4 1705.9,1014.6 1707.9,1010.9 1710.0,1011.2 1712.0,1012.0 1714.0,1012.3 1716.0,1005.8 1718.0,1006.5 1720.1,1007.7 1722.1,1004.3 1724.1,1005.3 1726.1,1006.3 1728.1,1006.0 1730.2,1005.0 1732.2,1010.0 1734.2,1011.0 1736.2,1011.0 1738.2,1012.8 1740.3,1013.0 1742.3,1010.6 1744.3,1012.6 1746.3,1012.8 1748.3,1014.2 1750.4,1014.3 1752.4,1009.2 1754.4,1009.3 1756.4,1007.6 1758.4,1013.2 1760.5,1008.7 1762.5,1008.7 1764.5,1009.1 1766.5,1008.9 1768.5,1005.6 1770.6,1011.2 1772.6,1008.7 1774.6,1003.4 1776.6,1007.6 1778.6,1005.9 1780.7,1005.2 1782.7,1001.7 1784.7,1000.4 1786.7,1004.1 1788.7,1000.1 1790.8,998.0 1792.8,996.2 1794.8,995.1 1796.8,989.0 1798.8,981.3 1800.9,975.8 1802.9,969.7 1804.9,974.3 1806.9,965.8 1808.9,966.4 1811.0,958.8 1813.0,953.0 1815.0,951.6 1817.0,942.7 1820.0,942.0 1821.1,944.3 1823.1,943.4 1825.1,947.1 1827.1,944.4 1829.1,951.1 1831.2,953.4 1833.2,962.4 1835.2,966.0 1837.2,974.7 1839.2,970.8 1841.3,978.0 1843.3,985.9 1845.3,989.8 1847.3,994.7 1849.3,998.6 1851.4,1000.0 1853.4,1006.3 1855.4,999.8 1857.4,1004.7 1859.4,1006.4 1861.5,1004.0 1863.5,1007.9 1865.5,1006.8 1867.5,1004.9 1869.5,1005.2 1871.6,1008.3 1873.6,1010.9 1875.6,1008.7 1877.6,1007.7 1879.6,1004.6 1881.7,1007.3 1883.7,1009.8 1885.7,1007.1 1887.7,1009.4 1889.7,1006.5 1891.8,1007.5 1893.8,1014.7 1895.8,1007.0 1897.8,1011.2 1899.8,1010.8 1901.9,1016.9 1903.9,1012.9 1905.9,1014.2 1907.9,1016.5 1909.9,1016.3 1912.0,1015.3 1914.0,1017.1 1916.0,1018.5 1918.0,1015.3 1920.0,1019.8 1922.1,1015.9 1924.1,1016.6 1926.1,1014.4 1928.1,1016.2 1930.1,1014.4 1932.2,1012.7 1934.2,1013.0 1936.2,1013.6 1938.2,1010.4 1940.2,1010.7 1942.3,1009.2 1944.3,1010.6 1946.3,1007.7 1948.3,1006.6 1950.3,1009.9 1952.4,1009.7 1954.4,1010.9 1956.4,1013.1 1958.4,1016.1 1960.4,1014.9 1962.5,1015.6 1964.5,1016.4 1966.5,1017.7 1968.5,1019.0 1970.5,1015.5 1972.6,1019.9 1974.6,1016.4 1976.6,1020.6 1978.6,1019.5 1980.6,1020.8 1982.7,1017.9 1984.7,1018.9 1986.7,1020.4 1988.7,1020.2 1990.7,1019.1 1992.8,1018.5 1994.8,1020.8 1996.8,1016.9 1998.8,1016.4 2000.8,1019.1 2002.9,1014.9 2004.9,1018.5 2006.9,1022.1 2008.9,1018.9 2010.9,1018.4 2013.0,1015.7 2015.0,1017.8 2017.0,1021.4 2019.0,1021.0 2021.0,1019.1 2023.1,1021.6 2025.1,1019.1 2027.1,1021.8 2029.1,1021.0 2031.1,1024.8 2033.2,1020.0 2035.2,1022.3 2037.2,1020.3 2039.2,1025.9 2041.2,1025.1 2043.3,1021.3 2045.3,1025.8 2047.3,1022.3 2049.3,1022.4 2051.3,1027.8 2053.4,1022.6 2055.4,1024.8 2057.4,1022.0 2059.4,1021.9 2061.4,1025.1 2063.5,1023.1 2065.5,1024.7 2067.5,1022.0 2069.5,1023.0 2071.5,1024.6 2073.6,1021.6 2075.6,1020.6 2077.6,1019.9 2079.6,1020.1 2081.6,1021.2 2083.7,1020.0 2085.7,1017.3 2087.7,1020.8 2089.7,1020.9 2091.7,1021.8 2093.8,1016.7 2095.8,1017.7 2097.8,1018.4 2099.8,1020.4 2101.8,1017.7 2103.9,1013.3 2105.9,1018.1 2107.9,1016.2 2109.9,1016.3 2111.9,1014.9 2114.0,1017.2 2116.0,1015.6 2118.0,1014.9 2120.0,1012.8 2122.0,1016.7 2124.1,1014.1 2126.1,1015.0 2128.1,1013.2 2130.1,1015.1 2132.1,1011.6 2134.2,1017.6 2136.2,1016.7 2138.2,1015.9 2140.2,1014.6 2142.2,1017.2 2144.3,1018.8 2146.3,1017.6 2148.3,1018.5 2150.3,1020.4 2152.3,1022.9 2154.4,1023.5 2156.4,1024.2 2158.4,1022.2 2160.4,1024.5 2162.4,1021.6 2164.5,1023.9 2166.5,1021.8 2168.5,1023.3 2170.5,1022.6 2172.5,1018.7 2174.6,1019.8 2176.6,1021.2 2178.6,1022.9 2180.6,1021.2 2182.6,1024.2 2184.7,1021.1 2186.7,1021.5 2188.7,1021.5 2190.7,1024.9 2192.7,1022.2 2194.8,1023.4 2196.8,1022.6 2198.8,1025.3 2200.8,1026.2 2202.8,1025.0 2204.9,1023.7 2206.9,1024.3"/>
<polyline stroke="#0000ff" points="178.8,673.3 180.8,676.7 182.8,678.0 184.9,674.7 186.9,672.8 188.9,675.4 190.9,676.5 192.9,677.8 195.0,672.6 197.0,672.3 199.0,676.4 201.0,675.5 203.0,677.1 205.1,674.9 207.1,671.4 209.1,669.8 211.1,674.9 213.1,667.5 215.2,665.4 217.2,663.6 219.2,665.6 221.2,664.6 223.2,662.2 225.3,661.2 227.3,660.0 229.3,659.2 231.3,659.0 233.3,656.3 235.4,651.7 237.4,659.7 239.4,655.9 241.4,660.9 243.4,658.9 245.5,663.2 247.5,661.4 249.5,664.1 251.5,669.6 253.5,663.7 255.6,666.0 257.6,660.7 259.6,663.4 261.6,665.8 263.6,664.0 265.7,665.2 267.7,664.7 269.7,662.1 271.7,666.5 273.7,664.4 275.8,672.5 277.8,668.6 279.8,672.8 281.8,672.3 283.8,675.4 285.9,672.9 287.9,677.2 289.9,675.3 291.9,678.7 293.9,677.5 296.0,676.7 298.0,674.9 300.0,678.4 302.0,677.8 304.0,680.4 306.1,676.3 308.1,678.4 310.1,678.5 312.1,678.2 314.1,678.2 316.2,678.4 318.2,677.0 320.2,676.3 322.2,677.8 324.2,680.1 326.3,682.1 328.3,681.2 330.3,681.5 332.3,681.0 334.3,680.8 336.4,679.7 338.4,680.7 340.4,682.5 342.4,677.9 344.4,676.8 346.5,682.1 348.5,678.2 350.5,679.5 352.5,679.2 354.5,675.0 356.6,682.4 358.6,681.1 360.6,677.8 362.6,679.1 364.6,677.8 366.7,675.7 368.7,677.4 370.7,678.5 372.7,680.1 374.7,679.3 376.8,678.0 378.8,680.8 380.8,676.5 382.8,679.9 384.8,680.7 386.9,678.0 388.9,675.1 390.9,677.1 392.9,679.6 394.9,680.4 397.0,682.7 399.0,677.7 401.0,680.0 403.0,681.5 405.0,680.1 407.1,676.0 409.1,682.7 411.1,686.0 413.1,683.8 415.1,680.3 417.2,681.5 419.2,682.9 421.2,687.2 423.2,683.8 425.2,682.8 427.3,685.6 429.3,682.4 431.3,686.2 433.3,681.2 435.3,681.6 437.4,684.0 439.4,685.3 441.4,683.9 443.4,683.3 445.4,679.4 447.5,681.7 449.5,682.2 451.5,682.6 453.5,685.0 455.5,683.5 457.6,685.8 459.6,684.7 461.6,684.0 463.6,684.8 465.6,685.5 467.7,686.3 469.7,683.8 471.7,684.3 473.7,682.2 475.7,687.8 477.8,687.5 479.8,684.5 481.8,683.9 483.8,682.4 485.8,684.8 487.9,684.7 489.9,688.1 491.9,684.2 493.9,682.0 495.9,678.6 498.0,685.7 500.0,683.2 502.0,679.6 504.0,683.0 506.0,679.4 508.1,687.1 510.1,684.6 512.1,683.4 514.1,681.9 516.1,678.0 518.2,681.8 520.2,678.8 522.2,682.9 524.2,677.3 526.2,679.3 528.3,683.1 530.3,683.4 532.3,676.9 534.3,675.4 536.3,679.7 538.4,678.9 540.4,674.2 542.4,673.9 544.4,672.9 546.4,670.6 548.5,670.4 550.5,673.3 552.5,670.0 554.5,671.0 556.5,663.1 558.6,660.3 560.6,655.5 562.6,655.2 564.6,649.1 566.6,644.5 568.7,647.7 570.7,645.2 572.7,635.5 574.7,627.7 576.7,614.2 578.8,599.7 580.8,590.5 582.8,574.4 584.8,554.3 586.8,534.9 588.9,519.9 590.9,510.2 592.9,491.1 594.9,467.6 596.9,454.4 599.0,430.0 601.0,409.0 603.2,395.3 605.0,397.2 607.0,400.6 609.1,420.0 611.1,426.7 613.1,448.3 615.1,453.1 617.1,468.0 619.2,482.6 621.2,496.5 623.2,531.7 625.2,545.2 627.2,573.0 629.3,596.0 631.3,617.0 633.3,629.3 635.3,638.5 637.3,637.6 639.4,647.4 641.4,648.4 643.4,659.4 645.4,665.3 647.4,665.7 649.5,671.1 651.5,672.9 653.5,676.0 655.5,673.2 657.5,674.0 659.6,674.4 661.6,679.3 663.6,676.3 665.6,671.3 667.6,669.4 669.7,664.2 671.7,656.6 673.7,648.7 675.7,644.3 677.7,635.9 679.8,624.8 681.8,619.9 683.8,612.6 685.0,610.6 687.8,618.2 689.9,629.6 691.9,643.7 693.9,651.2 695.9,661.0 697.9,667.7 700.0,671.2 702.0,675.3 704.0,677.1 706.0,678.8 708.0,684.1 710.1,678.9 712.1,683.6 714.1,683.4 716.1,683.7 718.1,685.3 720.2,687.4 722.2,685.6 724.2,685.3 726.2,684.5 728.2,685.4 730.3,687.3 732.3,684.9 734.3,683.5 736.3,683.3 738.3,683.6 740.4,683.1 742.4,687.6 744.4,686.2 746.4,685.1 748.4,688.2 750.5,684.2 752.5,686.7 754.5,686.7 756.5,681.9 758.5,681.0 760.6,681.1 762.6,683.4 764.6,682.8 766.6,676.0 768.6,678.6 770.7,672.9 772.7,669.9 774.7,666.3 776.7,663.6 778.7,656.4 780.8,654.7 782.8,650.1 784.8,650.6 786.8,650.7 788.8,646.6 790.9,631.8 792.9,621.6 794.9,619.1 796.9,611.8 798.9,610.8 801.0,605.1 803.0,606.8 805.0,616.1 807.0,622.5 809.0,625.1 811.1,636.2 813.1,645.5 815.1,655.3 817.1,663.3 819.1,666.9 821.2,672.1 823.2,673.6 825.2,675.7 827.2,682.8 829.2,682.3 831.3,684.1 833.3,681.8 835.3,685.7 837.3,688.3 839.3,685.0 841.4,689.7 843.4,687.4 845.4,689.1 847.4,688.4 849.4,689.2 851.5,691.1 853.5,688.3 855.5,691.5 857.5,686.9 859.5,685.9 861.6,688.0 863.6,683.8 865.6,684.0 867.6,685.4 869.6,685.1 871.7,678.1 873.7,681.4 875.7,683.0 877.7,680.4 879.7,676.2 881.8,674.1 883.8,673.4 885.8,670.4 887.8,671.9 889.8,672.4 891.9,673.2 893.9,677.2 895.9,675.1 897.9,673.5 899.9,679.9 902.0,676.7 904.0,679.2 906.0,681.1 908.0,681.9 910.0,681.8 912.1,684.4 914.1,690.1 916.1,686.1 918.1,687.8 920.1,690.5 922.2,690.4 924.2,690.9 926.2,691.5 928.2,687.0 930.2,689.2 932.3,691.2 934.3,692.1 936.3,693.5 938.3,692.1 940.3,690.8 942.4,691.3 944.4,690.8 946.4,691.5 948.4,692.2 950.4,690.3 952.5,689.4 954.5,689.2 956.5,692.5 958.5,692.7 960.5,692.1 962.6,691.8 964.6,691.6 966.6,690.0 968.6,691.0 970.6,687.9 972.7,689.2 974.7,688.1 976.7,690.5 978.7,688.2 980.7,688.9 982.8,689.8 984.8,691.5 986.8,687.9 988.8,687.9 990.8,691.3 992.9,688.3 994.9,691.5 996.9,690.2 998.9,691.5 1000.9,688.9 1003.0,693.7 1005.0,691.9 1007.0,691.5 1009.0,696.8 1011.0,694.4 1013.1,697.2 1015.1,693.5 1017.1,691.9 1019.1,692.4 1021.1,694.6 1023.2,691.4 1025.2,691.8 1027.2,691.5 1029.2,688.5 1031.2,689.9 1033.3,688.2 1035.3,686.3 1037.3,689.4 1039.3,688.3 1041.3,686.6 1043.4,684.1 1045.4,681.4 1047.4,685.3 1049.4,683.5 1051.4,679.7 1053.5,682.2 1055.5,678.8 1057.5,681.6 1059.5,682.0 1061.5,682.7 1063.6,682.9 1065.6,683.4 1067.6,681.6 1069.6,683.7 1071.6,684.1 1073.7,685.2 1075.7,686.8 1077.7,688.2 1079.7,690.8 1081.7,684.6 1083.8,690.3 1085.8,690.0 1087.8,695.0 1089.8,693.2 1091.8,689.1 1093.9,692.9 1095.9,691.3 1097.9,693.9 1099.9,690.3 1101.9,692.0 1104.0,691.9 1106.0,692.0 1108.0,691.1 1110.0,688.8 1112.0,692.8 1114.1,693.7 1116.1,691.8 1118.1,690.1 1120.1,692.1 1122.1,692.6 1124.2,691.1 1126.2,691.0 1128.2,693.2 1130.2,688.5 1132.2,689.2 1134.3,686.6 1136.3,688.6 1138.3,688.5 1140.3,688.2 1142.3,688.7 1144.4,693.2 1146.4,689.9 1148.4,690.2 1150.4,694.4 1152.4,690.6 1154.5,687.8 1156.5,691.7 1158.5,689.5 1160.5,694.1 1162.5,689.1 1164.6,690.2 1166.6,688.3 1168.6,691.1 1170.6,688.9 1172.6,690.2 1174.7,689.3 1176.7,688.4 1178.7,690.6 1180.7,689.8 1182.7,687.2 1184.8,684.0 1186.8,682.0 1188.8,682.8 1190.8,684.8 1192.8,675.9 1194.9,671.4 1196.9,667.9 1198.9,663.2 1200.9,659.6 1202.9,657.7 1205.0,656.9 1207.0,649.6 1209.0,644.4 1211.7,642.4 1213.0,643.5 1215.1,646.5 1217.1,649.2 1219.1,653.5 1221.1,659.6 1223.1,666.6 1225.2,669.6 1227.2,672.0 1229.2,673.6 1231.2,677.5 1233.2,679.1 1235.3,685.3 1237.3,680.7 1239.3,684.0 1241.3,688.5 1243.3,686.9 1245.4,690.7 1247.4,688.7 1249.4,689.5 1251.4,689.0 1253.4,687.6 1255.5,688.6 1257.5,694.5 1259.5,692.0 1261.5,692.3 1263.5,693.3 1265.6,693.0 1267.6,694.2 1269.6,692.2 1271.6,692.4 1273.6,694.5 1275.7,692.1 1277.7,690.4 1279.7,692.3 1281.7,691.7 1283.7,693.7 1285.8,691.3 1287.8,690.7 1289.8,692.0 1291.8,695.4 1293.8,692.7 1295.9,693.2 1297.9,693.0 1299.9,693.6 1301.9,694.7 1303.9,695.5 1306.0,690.1 1308.0,695.3 1310.0,692.9 1312.0,692.2 1314.0,696.9 1316.1,692.3 1318.1,695.8 1320.1,693.7 1322.1,689.7 1324.1,691.9 1326.2,691.9 1328.2,690.0 1330.2,685.8 1332.2,688.9 1334.2,688.7 1336.3,686.7 1338.3,691.3 1340.3,686.9 1342.3,685.8 1344.3,685.1 1346.4,683.3 1348.4,682.7 1350.4,683.9 1352.4,684.1 1354.4,682.3 1356.5,682.9 1358.5,680.3 1360.5,683.8 1362.5,681.2 1364.5,682.9 1366.6,680.6 1368.6,681.2 1370.6,682.5 1372.6,679.5 1374.6,686.4 1376.7,681.0 1378.7,678.6 1380.7,674.6 1382.7,677.1 1384.7,673.9 1386.8,668.4 1388.8,661.0 1390.8,659.5 1392.8,658.2 1394.8,650.7 1396.9,645.7 1398.9,643.7 1400.9,643.4 1402.9,644.3 1404.9,641.4 1407.0,642.3 1409.0,647.9 1411.0,643.0 1413.0,629.8 1415.0,627.9 1417.1,619.5 1419.1,611.5 1421.1,609.0 1423.1,597.7 1425.1,592.7 1427.2,588.4 1429.2,587.0 1431.2,587.9 1432.8,585.5 1435.2,588.1 1437.3,596.9 1439.3,602.8 1441.3,614.5 1443.3,620.6 1445.3,630.8 1447.4,635.8 1449.4,637.9 1451.4,651.3 1453.4,655.3 1455.4,660.1 1457.5,660.1 1459.5,668.1 1461.5,670.2 1463.5,673.7 1465.5,678.5 1467.6,680.4 1469.6,679.6 1471.6,679.0 1473.6,677.8 1475.6,681.4 1477.7,684.7 1479.7,682.4 1481.7,678.1 1483.7,680.8 1485.7,683.4 1487.8,685.9 1489.8,685.1 1491.8,683.8 1493.8,683.7 1495.8,681.6 1497.9,683.1 1499.9,683.9 1501.9,683.6 1503.9,685.9 1505.9,685.7 1508.0,687.6 1510.0,690.1 1512.0,689.4 1514.0,689.4 1516.0,688.8 1518.1,687.1 1520.1,689.9 1522.1,691.2 1524.1,688.5 1526.1,692.4 1528.2,689.6 1530.2,690.8 1532.2,689.5 1534.2,687.8 1536.2,693.5 1538.3,687.3 1540.3,690.1 1542.3,686.5 1544.3,687.0 1546.3,684.3 1548.4,684.4 1550.4,686.4 1552.4,687.9 1554.4,682.6 1556.4,684.4 1558.5,686.7 1560.5,684.6 1562.5,687.8 1564.5,685.9 1566.5,688.9 1568.6,689.2 1570.6,691.2 1572.6,690.2 1574.6,688.0 1576.6,691.6 1578.7,688.7 1580.7,692.1 1582.7,693.6 1584.7,692.1 1586.7,690.2 1588.8,693.3 1590.8,691.5 1592.8,689.0 1594.8,690.4 1596.8,693.2 1598.9,689.8 1600.9,690.0 1602.9,688.7 1604.9,685.8 1606.9,687.3 1609.0,688.0 1611.0,686.7 1613.0,685.0 1615.0,680.3 1617.0,685.8 1619.1,684.1 1621.1,683.9 1623.1,683.9 1625.1,679.8 1627.1,678.8 1629.2,680.1 1631.2,682.6 1633.2,675.8 1635.2,679.1 1637.2,678.7 1639.3,682.0 1641.3,684.5 1643.3,681.7 1645.3,680.6 1647.3,683.9 1649.4,684.1 1651.4,682.4 1653.4,687.2 1655.4,684.6 1657.4,686.2 1659.5,681.4 1661.5,684.7 1663.5,678.2 1665.5,681.5 1667.5,673.3 1669.6,677.6 1671.6,671.1 1673.6,664.9 1675.6,664.4 1677.6,663.6 1679.7,660.3 1681.7,663.3 1683.7,667.8 1685.7,669.7 1687.7,667.3 1689.8,674.1 1691.8,678.5 1693.8,680.8 1695.8,684.3 1697.8,682.3 1699.9,688.2 1701.9,684.4 1703.9,681.9 1705.9,681.6 1707.9,679.4 1710.0,675.8 1712.0,671.8 1714.0,672.9 1716.0,669.4 1718.0,663.1 1720.1,665.7 1722.1,670.9 1724.1,672.1 1726.1,674.3 1728.1,676.8 1730.2,677.7 1732.2,682.4 1734.2,679.0 1736.2,679.4 1738.2,680.7 1740.3,681.4 1742.3,681.3 1744.3,682.4 1746.3,678.1 1748.3,681.2 1750.4,679.5 1752.4,676.0 1754.4,677.7 1756.4,682.1 1758.4,679.3 1760.5,676.6 1762.5,672.5 1764.5,675.9 1766.5,676.0 1768.5,677.5 1770.6,682.2 1772.6,678.8 1774.6,677.8 1776.6,675.1 1778.6,673.8 1780.7,673.9 1782.7,670.4 1784.7,673.7 1786.7,663.6 1788.7,659.6 1790.8,660.3 1792.8,653.3 1794.8,645.2 1796.8,648.3 1798.8,639.7 1800.9,632.4 1802.9,633.6 1804.9,630.8 1806.9,626.0 1808.9,627.6 1811.0,626.1 1813.0,621.9 1815.0,621.7 1817.0,621.5 1819.0,620.8 1821.1,623.5 1823.1,625.1 1825.1,629.1 1827.1,634.2 1829.1,633.1 1831.2,640.8 1833.2,639.8 1835.2,653.4 1837.2,658.5 1839.2,661.0 1841.3,663.4 1843.3,664.8 1845.3,670.3 1847.3,674.8 1849.3,672.5 1851.4,675.2 1853.4,673.2 1855.4,675.7 1857.4,673.4 1859.4,676.7 1861.5,675.8 1863.5,677.2 1865.5,675.5 1867.5,674.4 1869.5,676.3 1871.6,679.2 1873.6,680.4 1875.6,676.4 1877.6,678.7 1879.6,678.6 1881.7,677.9 1883.7,673.8 1885.7,677.7 1887.7,675.0 1889.7,679.5 1891.8,678.8 1893.8,678.9 1895.8,673.5 1897.8,680.8 1899.8,682.3 1901.9,679.7 1903.9,685.4 1905.9,684.9 1907.9,685.4 1909.9,685.0 1912.0,684.7 1914.0,685.7 1916.0,690.6 1918.0,686.3 1920.0,685.9 1922.1,683.8 1924.1,683.4 1926.1,682.9 1928.1,681.7 1930.1,684.5 1932.2,681.8 1934.2,683.5 1936.2,679.1 1938.2,682.9 1940.2,680.7 1942.3,682.0 1944.3,680.4 1946.3,679.1 1948.3,683.6 1950.3,680.9 1952.4,682.1 1954.4,681.5 1956.4,684.3 1958.4,684.0 1960.4,686.0 1962.5,686.8 1964.5,685.5 1966.5,684.7 1968.5,688.3 1970.5,689.4 1972.6,689.2 1974.6,686.1 1976.6,689.3 1978.6,689.1 1980.6,689.0 1982.7,689.4 1984.7,688.2 1986.7,689.2 1988.7,690.6 1990.7,688.1 1992.8,686.6 1994.8,689.0 1996.8,689.6 1998.8,686.2 2000.8,688.3 2002.9,690.6 2004.9,689.5 2006.9,690.0 2008.9,687.8 2010.9,691.8 2013.0,693.5 2015.0,690.3 2017.0,689.6 2019.0,689.1 2021.0,692.9 2023.1,691.7 2025.1,690.4 2027.1,694.1 2029.1,693.4 2031.1,693.3 2033.2,689.2 2035.2,692.2 2037.2,693.4 2039.2,690.2 2041.2,693.9 2043.3,694.8 2045.3,694.0 2047.3,690.9 2049.3,690.9 2051.3,693.7 2053.4,693.7 2055.4,694.0 2057.4,693.9 2059.4,691.5 2061.4,690.9 2063.5,688.2 2065.5,692.7 2067.5,695.2 2069.5,690.3 2071.5,690.1 2073.6,691.9 2075.6,691.1 2077.6,687.6 2079.6,688.2 2081.6,686.9 2083.7,691.7 2085.7,686.3 2087.7,688.5 2089.7,690.0 2091.7,689.6 2093.8,688.4 2095.8,688.5 2097.8,682.8 2099.8,684.1 2101.8,683.1 2103.9,683.6 2105.9,688.4 2107.9,680.4 2109.9,684.4 2111.9,680.7 2114.0,685.4 2116.0,685.2 2118.0,681.5 2120.0,686.4 2122.0,682.4 2124.1,684.7 2126.1,682.7 2128.1,681.2 2130.1,682.1 2132.1,683.4 2134.2,685.8 2136.2,686.0 2138.2,691.1 2140.2,687.7 2142.2,688.3 2144.3,688.6 2146.3,689.0 2148.3,688.1 2150.3,689.1 2152.3,692.6 2154.4,691.3 2156.4,691.1 2158.4,692.1 2160.4,693.5 2162.4,692.8 2164.5,693.2 2166.5,691.0 2168.5,691.6 2170.5,690.8 2172.5,692.1 2174.6,690.9 2176.6,691.8 2178.6,692.2 2180.6,692.3 2182.6,692.3 2184.7,692.0 2186.7,695.2 2188.7,692.4 2190.7,691.3 2192.7,693.5 2194.8,691.4 2196.8,691.5 2198.8,693.6 2200.8,690.6 2202.8,689.4 2204.9,694.1 2206.9,695.4"/>
</g>
</svg>
</body>
</html>
